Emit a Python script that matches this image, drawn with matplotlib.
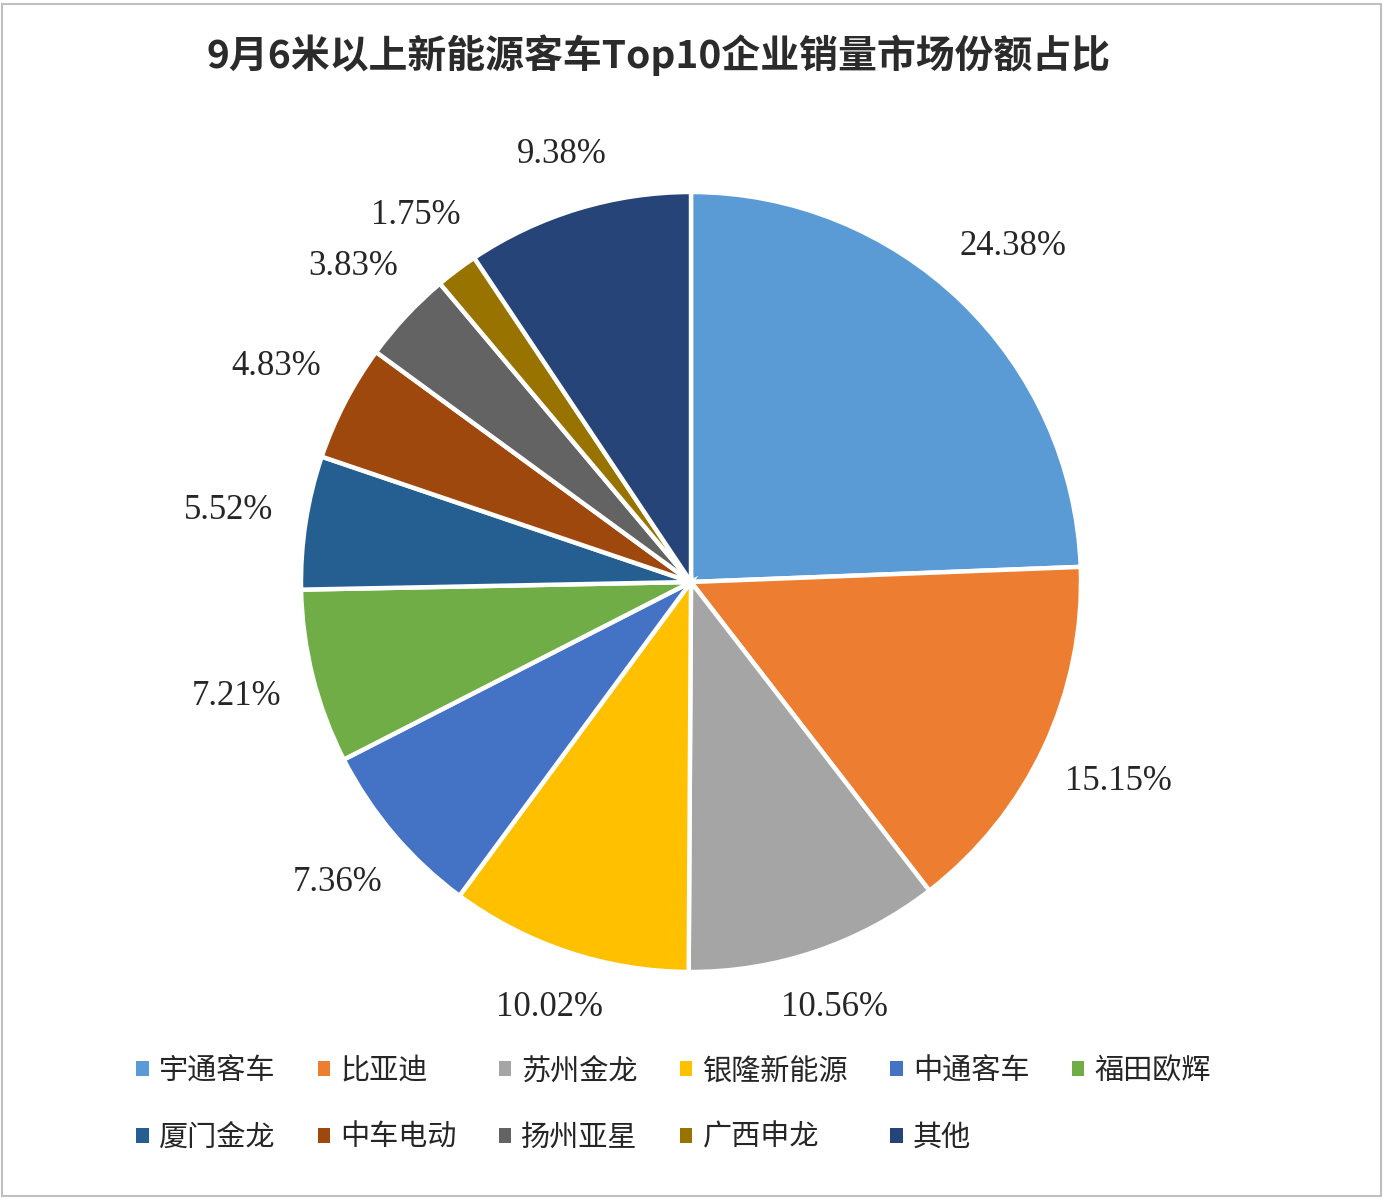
import numpy as np
import matplotlib
matplotlib.use("Agg")
import matplotlib.pyplot as plt
from matplotlib.patches import Patch, Rectangle

plt.rcParams['font.family'] = ['Noto Sans CJK SC', 'DejaVu Sans']

title = "9月6米以上新能源客车Top10企业销量市场份额占比"
companies = ["宇通客车", "比亚迪", "苏州金龙", "银隆新能源", "中通客车", "福田欧辉",
             "厦门金龙", "中车电动", "扬州亚星", "广西申龙", "其他"]
shares = [24.38, 15.15, 10.56, 10.02, 7.36, 7.21, 5.52, 4.83, 3.83, 1.75, 9.38]
colors = ["#5B9BD5", "#ED7D31", "#A5A5A5", "#FFC000", "#4472C4", "#70AD47",
          "#255E91", "#9E480E", "#636363", "#997300", "#264478"]

W, H = 1386, 1200
fig = plt.figure(figsize=(W / 100, H / 100), dpi=100)
fig.patch.set_facecolor("white")

cx, cy, r = 691, 582, 390
ax = fig.add_axes([(cx - r) / W, (H - cy - r) / H, 2 * r / W, 2 * r / H])
wedges, _ = ax.pie(
    shares, colors=colors, startangle=90, counterclock=False,
    wedgeprops=dict(edgecolor="white", linewidth=3.2))
ax.set_xlim(-1, 1)
ax.set_ylim(-1, 1)
ax.set_aspect("equal")

# labels placed "outside end": bbox just outside the circle
fs = 25
px_per_unit = r
gap = 0.08
for w, v in zip(wedges, shares):
    s = f"{v:.2f}%"
    th = np.deg2rad((w.theta1 + w.theta2) / 2)
    half_w = len(s) * 0.27 * fs * 1.389 / 2 / px_per_unit + 0.056
    half_h = 0.36 * fs * 1.389 / px_per_unit
    d = 1 + gap + abs(half_w * np.cos(th)) + abs(half_h * np.sin(th))
    ax.text(d * np.cos(th), d * np.sin(th), s, ha="center", va="center",
            family=['Liberation Serif', 'DejaVu Serif'], fontsize=fs,
            color="#262626", clip_on=False)

fig.text(659 / W, 1 - 55 / H, title, ha="center", va="center",
         fontsize=28, fontweight="bold", color="#2b2b2b")

ncol = 6
nrow = 2
order = []
for c in range(ncol):
    for rr in range(nrow):
        i = rr * ncol + c
        if i < len(companies):
            order.append(i)
handles = [Patch(facecolor=colors[i], edgecolor="none", label=companies[i]) for i in order]
leg = fig.legend(handles=handles, ncol=ncol, loc="upper left",
                 bbox_to_anchor=(110 / W, 1 - 1030 / H),
                 frameon=False, fontsize=21, handlelength=0.42, handleheight=0.42,
                 handletextpad=0.35, columnspacing=1.45, labelspacing=1.25)
for t in leg.get_texts():
    t.set_color("#262626")

fig.patches.append(Rectangle((2 / W, 4 / H), 1379 / W, 1192 / H, transform=fig.transFigure,
                             fill=False, edgecolor="#BFBFBF", linewidth=1.5))

fig.savefig("out.png", dpi=100, facecolor="white")
